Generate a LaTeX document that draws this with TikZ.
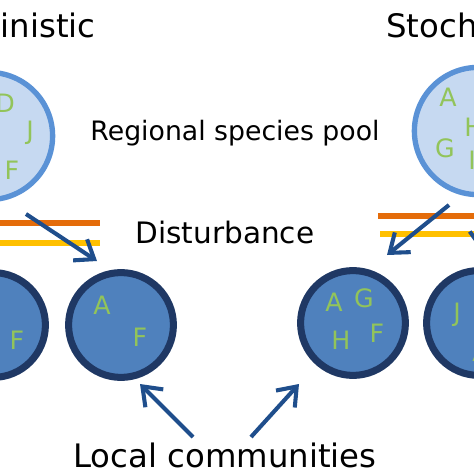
\documentclass[tikz,border=0pt]{standalone}
\usepackage{fontspec}
\setmainfont{DejaVu Sans}
\usepackage{xcolor}
\usetikzlibrary{arrows.meta}

\definecolor{poolfill}{HTML}{C6D9F1}
\definecolor{poolline}{HTML}{5A92D6}
\definecolor{commfill}{HTML}{4F81BD}
\definecolor{commline}{HTML}{1F3864}
\definecolor{spgreen}{HTML}{92C45A}
\definecolor{distorange}{HTML}{E46C0A}
\definecolor{distyellow}{HTML}{FFC000}
\definecolor{arrowblue}{HTML}{1F4E8C}

\begin{document}
\begin{tikzpicture}[x=0.025cm, y=-0.025cm,
	pool/.style={circle, draw=poolline, fill=poolfill, line width=3.8pt, minimum size=3.18cm, inner sep=0pt},
	comm/.style={circle, draw=commline, fill=commfill, line width=5pt, minimum size=2.62cm, inner sep=0pt},
	sp/.style={text=spgreen, font=\fontsize{18}{21}\selectfont, inner sep=0pt},
	lbl/.style={font=\fontsize{19}{22}\selectfont, inner sep=0pt},
	bar/.style={line width=4.3pt},
	link/.style={arrowblue, line width=2.9pt, -{Straight Barb[length=12pt, width=18pt, line width=2.9pt]}}]
		\useasboundingbox (0,0) rectangle (474,474);
		\clip (0,0) rectangle (474,474);
		
		% Titles
		\node[lbl, font=\fontsize{23}{26}\selectfont, anchor=base east] (detitle) at (96,37) {Deterministic};
		\node[lbl, font=\fontsize{23}{26}\selectfont, anchor=base west] (sttitle) at (386,37) {Stochastic};
		
		% Regional species pools
		\node[pool] (poolL) at (-11,136) {};
		\node[pool] (poolR) at (478,131) {};
		\node[sp] (pLd) at (5,103) {D};
		\node[sp] (pLj) at (30,133) {J};
		\node[sp] (pLf) at (12,170) {F};
		\node[sp] (pRa) at (448,97) {A};
		\node[sp] (pRh) at (474,127) {H};
		\node[sp] (pRg) at (445,148) {G};
		\node[sp] (pRi) at (472,160) {I};
		\node[lbl, anchor=base] (poollbl) at (235,140) {Regional species pool};
		
		% Disturbance
		\draw[bar, distorange] (0,223) -- (100,223);
		\draw[bar, distyellow] (0,243) -- (100,243);
		\draw[bar, distorange] (378,216) -- (474,216);
		\draw[bar, distyellow] (380,234) -- (474,234);
		\node[lbl, font=\fontsize{21}{25}\selectfont, anchor=base] (distlbl) at (225,243) {Disturbance};
		
		% Local communities
		\node[comm] (commLa) at (-7,325) {};
		\node[comm] (commLb) at (121,325) {};
		\node[comm] (commRa) at (353,323) {};
		\node[comm] (commRb) at (479,323) {};
		\node[sp] (cLaf) at (17,340) {F};
		\node[sp] (cLba) at (102,305) {A};
		\node[sp] (cLbf) at (140,337) {F};
		\node[sp] (cRaa) at (334,302) {A};
		\node[sp] (cRag) at (364,298) {G};
		\node[sp] (cRah) at (341,340) {H};
		\node[sp] (cRaf) at (377,333) {F};
		\node[sp] (cRbj) at (457,315) {J};
		\node[sp] (cRba) at (481,352) {A};
		\node[lbl, font=\fontsize{23}{27}\selectfont, anchor=base] (commlbl) at (225,467) {Local communities};
		
		% Arrows
		\coordinate (fromL) at (26,214);
		\coordinate (toL) at (97,261);
		\coordinate (fromR) at (449,205);
		\coordinate (toR) at (387,255);
		\coordinate (fromRR) at (483,200);
		\coordinate (toRR) at (482,252);
		\coordinate (ptL) at (140,384);
		\coordinate (ptR) at (299,384);
		\coordinate (lblL) at (193,437);
		\coordinate (lblR) at (251,437);
		\draw[link] (fromL) -- (toL);
		\draw[link] (fromR) -- (toR);
		\draw[link] (fromRR) -- (toRR);
		\draw[link] (lblL) -- (ptL);
		\draw[link] (lblR) -- (ptR);
	\end{tikzpicture}
\end{document}
